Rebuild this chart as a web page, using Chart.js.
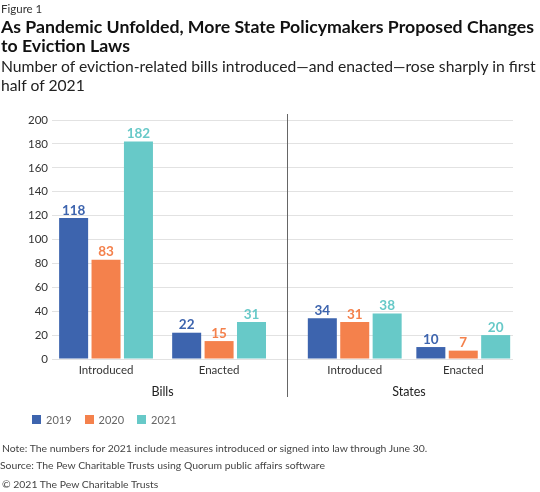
<!DOCTYPE html>
<html>
<head>
<meta charset="utf-8">
<script src="https://cdn.jsdelivr.net/npm/chart.js@4.4.1/dist/chart.umd.min.js"></script>
<style>
  html, body { margin: 0; padding: 0; background: #fff; }
  body { width: 540px; height: 492px; position: relative; overflow: hidden; font-family: Lato, 'Open Sans', sans-serif; color: #222; }
  #wrap { position: absolute; left: 0; top: 0; width: 540px; height: 492px; }
  .txt { position: absolute; left: 1px; white-space: nowrap; }
  #fig { top: 2px; font-size: 11.5px; color: #333; }
  #title { top: 17px; font-size: 17.7px; font-weight: 700; line-height: 19px; color: #111; }
  #sub { top: 57px; font-size: 15.7px; line-height: 19px; color: #222; }
  #legend { position: absolute; top: 413px; left: 32px; font-size: 11px; color: #666; display: flex; }
  #legend span.item { display: flex; align-items: center; margin-right: 13px; }
  #legend i { display: inline-block; width: 9px; height: 9px; margin-right: 5px; }
  .note { font-size: 10.4px; color: #444; left: 2px; }
</style>
</head>
<body>
<div id="wrap"><canvas id="chart"></canvas></div>
<div class="txt" id="fig">Figure 1</div>
<div class="txt" id="title">As Pandemic Unfolded, More State Policymakers Proposed Changes<br>to Eviction Laws</div>
<div class="txt" id="sub">Number of eviction-related bills introduced—and enacted—rose sharply in first<br>half of 2021</div>
<div id="legend"></div>
<div class="txt note" style="top:442px">Note: The numbers for 2021 include measures introduced or signed into law through June 30.</div>
<div class="txt note" style="top:459px; left:0">Source: The Pew Charitable Trusts using Quorum public affairs software</div>
<div class="txt note" style="top:478px">© 2021 The Pew Charitable Trusts</div>
<script>
// data
const categories = ['Introduced', 'Enacted', 'Introduced', 'Enacted'];
const groups = ['Bills', 'States'];
const years = ['2019', '2020', '2021'];
const values2019 = [118, 22, 34, 10];
const values2020 = [83, 15, 31, 7];
const values2021 = [182, 31, 38, 20];
const yTicks = [0, 20, 40, 60, 80, 100, 120, 140, 160, 180, 200];

// layout: slot centres on the x scale (wider gap between the two groups)
const slotX = [0, 1, 2.2, 3.16];
const colors = ['#3d64ae', '#f4814c', '#67c9c8'];

const series = [values2019, values2020, values2021];

const legendEl = document.getElementById('legend');
years.forEach((y, i) => {
  legendEl.innerHTML += `<span class="item"><i style="background:${colors[i]}"></i>${y}</span>`;
});

// numbers above the bars
const valueLabels = {
  id: 'valueLabels',
  afterDatasetsDraw(chart) {
    const ctx = chart.ctx;
    ctx.save();
    ctx.font = 'bold 13.5px Lato';
    ctx.textAlign = 'center';
    ctx.textBaseline = 'bottom';
    chart.data.datasets.forEach((ds, i) => {
      ctx.fillStyle = ds.backgroundColor;
      chart.getDatasetMeta(i).data.forEach((bar, j) => {
        ctx.fillText(String(series[i][j]), bar.x, bar.y - 1);
      });
    });
    ctx.restore();
  }
};

// divider between Bills / States and the group names
const groupDecor = {
  id: 'groupDecor',
  afterDraw(chart) {
    const ctx = chart.ctx;
    const x = chart.scales.x;
    const sepX = Math.round(x.getPixelForValue((slotX[1] + slotX[2]) / 2)) + 0.5;
    ctx.save();
    ctx.strokeStyle = '#666';
    ctx.lineWidth = 1;
    ctx.beginPath();
    ctx.moveTo(sepX, 114);
    ctx.lineTo(sepX, 397);
    ctx.stroke();
    ctx.font = '12.5px Lato';
    ctx.fillStyle = '#222';
    ctx.textAlign = 'center';
    ctx.textBaseline = 'middle';
    groups.forEach((g, k) => {
      const mid = (slotX[k * 2] + slotX[k * 2 + 1]) / 2;
      ctx.fillText(g, x.getPixelForValue(mid), 392);
    });
    ctx.restore();
  }
};

new Chart(document.getElementById('chart'), {
  type: 'bar',
  data: {
    datasets: years.map((y, i) => ({
      label: y,
      data: series[i].map((v, j) => ({ x: slotX[j], y: v })),
      backgroundColor: colors[i],
      categoryPercentage: 0.896,
      barPercentage: 0.895
    }))
  },
  options: {
    responsive: true, maintainAspectRatio: false, animation: false,
    layout: { padding: { top: 120, right: 27, bottom: 103, left: 0 } },
    plugins: { legend: { display: false }, tooltip: { enabled: false } },
    scales: {
      x: {
        type: 'linear', min: -0.478, max: 3.6, offset: false,
        grid: { display: false, drawTicks: false }, border: { display: false },
        afterBuildTicks: s => { s.ticks = slotX.map(v => ({ value: v })); },
        afterFit: s => { s.height = 30; },
        ticks: {
          autoSkip: false, maxRotation: 0, padding: 4,
          color: '#333', font: { family: 'Lato', size: 11.5 },
          callback: (v, i) => categories[i]
        }
      },
      y: {
        min: 0, max: 200,
        afterBuildTicks: s => { s.ticks = yTicks.map(v => ({ value: v })); },
        afterFit: s => { s.width = 52; },
        grid: { color: '#e2e2e2', lineWidth: 1, drawTicks: false },
        border: { display: false },
        ticks: { padding: 4, color: '#333', font: { family: 'Lato', size: 11.5 } }
      }
    }
  },
  plugins: [valueLabels, groupDecor]
});
</script>
</body>
</html>
